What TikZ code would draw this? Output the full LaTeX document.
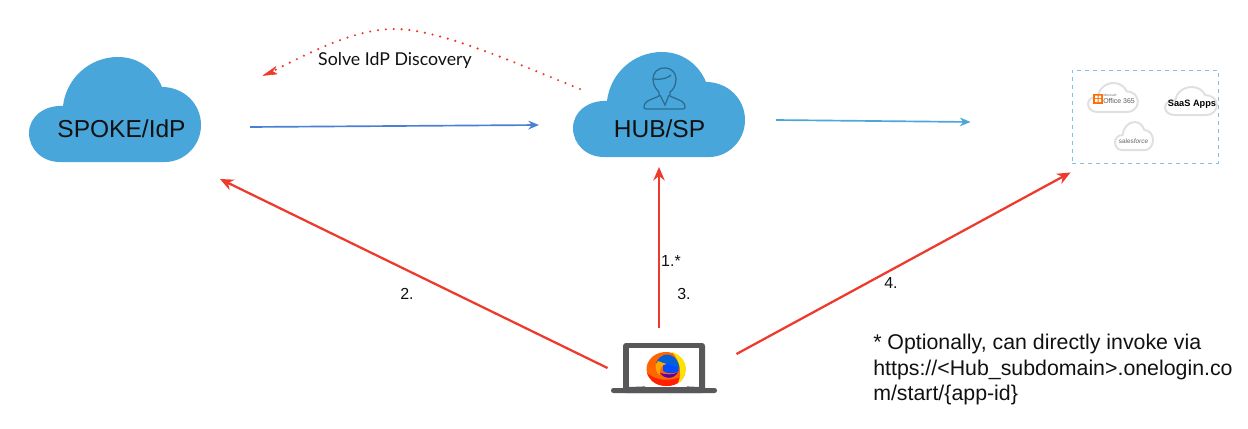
\documentclass[tikz,border=0pt]{standalone}
\usepackage{fontspec}
\setmainfont{Liberation Sans}
\newfontfamily\labelfont{Lato}
\usetikzlibrary{arrows.meta,calc}
\definecolor{cloudblue}{HTML}{48A6DA}
\definecolor{arrowred}{HTML}{EE3A2C}
\definecolor{flowblue}{HTML}{4A80D4}
\definecolor{lightflow}{HTML}{4BA6DB}
\definecolor{iconline}{HTML}{2B6C90}
\definecolor{laptopgray}{HTML}{58585A}
\definecolor{inktext}{HTML}{111111}
\newcommand{\cloudoutline}{(31,105) .. controls (13,105) and (0,92) .. (0,76) .. controls (0,60) and (15,48) .. (34,49) .. controls (37,22) and (60,0) .. (89,0) .. controls (110,0) and (126,13) .. (133,30) .. controls (155,30) and (172,47) .. (172,68) .. controls (172,89) and (155,105) .. (136,105) -- cycle}
\tikzset{
  redflow/.style={draw=arrowred,line width=1.7pt,-{Stealth[length=10pt,width=8.5pt]}},
  blueflow/.style={draw=flowblue,line width=1.25pt,-{Stealth[length=8pt,width=6.5pt]}},
  lightblueflow/.style={draw=lightflow,line width=1.25pt,-{Stealth[length=8pt,width=6.5pt]}},
  discovery/.style={draw=arrowred,line width=1.8pt,line cap=round,dash pattern=on 0pt off 5.9pt},
  bigcloud/.style={fill=cloudblue,draw=none},
  smallcloud/.style={fill=white,draw=black!12,line width=1.5pt},
  cloudtitle/.style={text=inktext,font=\fontsize{18.4}{22}\selectfont,inner sep=0pt},
  steplabel/.style={text=inktext,font=\fontsize{12}{14}\selectfont,inner sep=0pt},
  boxnode/.style={draw=none,inner sep=0pt,outer sep=0pt},
}
\begin{document}
\begin{tikzpicture}[x=0.75pt,y=-0.75pt]
\useasboundingbox (0,0) rectangle (1248,428);
% clouds
\begin{scope}[shift={(29,57)}]
  \path[bigcloud] \cloudoutline;
\end{scope}
\begin{scope}[shift={(573,52)}]
  \path[bigcloud] \cloudoutline;
\end{scope}
% person icon
\begin{scope}[draw=iconline,line width=0.95pt]
  \draw (664.5,68) .. controls (657,68) and (653,73) .. (653,79) .. controls (653,86) and (657,90) .. (659,92) -- (659,96) .. controls (654,99) and (644,100) .. (644,107) .. controls (644,108) and (644.5,109) .. (646,109) -- (683,109) .. controls (684.5,109) and (685,108) .. (685,107) .. controls (685,100) and (675,99) .. (670,96) -- (670,92) .. controls (673,90) and (676,86) .. (676,79) .. controls (676,73) and (672,68) .. (664.5,68) -- cycle;
  \draw (654,79) .. controls (662,80) and (668,78) .. (671,75);
  \draw (660,95) -- (665,105) -- (669,95);
\end{scope}
% cloud nodes
\node[boxnode,cloudtitle,minimum width=192.75pt,minimum height=75pt] (spoke) at (121.5,129) {SPOKE/IdP};
\node[boxnode,cloudtitle,minimum width=180.75pt,minimum height=57pt] (hub) at (659.5,129) {HUB/SP};
% apps box
\node[draw=lightflow!70,dashed,line width=0.7pt,inner sep=0pt,minimum width=109.5pt,minimum height=69.75pt] (apps) at (1145,116.5) {};
\begin{scope}[shift={(1088,83)},xscale=0.29,yscale=0.276]
  \path[smallcloud] \cloudoutline;
\end{scope}
\begin{scope}[shift={(1165,87)},xscale=0.302,yscale=0.267]
  \path[smallcloud] \cloudoutline;
\end{scope}
\begin{scope}[shift={(1115,122)},xscale=0.221,yscale=0.267]
  \path[smallcloud] \cloudoutline;
\end{scope}
\fill[orange!85!red] (1093,93.5) rectangle (1103,104);
\fill[white] (1095,95.5) rectangle (1097.5,98.2) (1098.5,95.5) rectangle (1101,98.2) (1095,99.2) rectangle (1097.5,102) (1098.5,99.2) rectangle (1101,102);
\node[inner sep=0pt,text=black!60,font=\fontsize{2.4}{3}\selectfont] (msword) at (1110,95.5) {Microsoft};
\node[inner sep=0pt,text=black!65,font=\fontsize{5.2}{7}\selectfont] (office) at (1119,101) {Office 365};
\node[inner sep=0pt,text=black,font=\bfseries\fontsize{6.9}{8}\selectfont] (saas) at (1192,104) {SaaS Apps};
\node[inner sep=0pt,text=black!60,font=\fontsize{4.8}{6}\selectfont] (sforce) at (1133.5,141) {sales\textit{force}};
% laptop
\node[boxnode,minimum width=79.5pt,minimum height=37.5pt] (laptop) at (664.5,368) {};
\path[fill=laptopgray,rounded corners=2.2pt] (623,393) -- (623,343) -- (705,343) -- (705,393) -- cycle;
\fill[white] (629,348) rectangle (699,388);
\path[fill=laptopgray,rounded corners=1.8pt] (611,393) -- (611,388) -- (717,388) -- (717,393) -- cycle;
\fill[laptopgray] (645,387) rectangle (687,388);
\fill[laptopgray] (629,387) -- (645,386.4) -- (645,388) -- (629,388) -- cycle;
\fill[laptopgray] (687,386.4) -- (699,387) -- (699,388) -- (687,388) -- cycle;
% browser logo
\begin{scope}
  \fill[orange!80!red] (666,369) ellipse (19.5 and 17);
  \fill[red!75!orange] (647,373) .. controls (650,382) and (658,386) .. (667,386) .. controls (676,386) and (683,381) .. (685,374) .. controls (678,380) and (660,384) .. (647,373) -- cycle;
  \fill[yellow!85!orange] (672,352) .. controls (682,355) and (687,364) .. (685.5,372) .. controls (684,378) and (681,382) .. (678,383) .. controls (682,374) and (681,362) .. (672,352) -- cycle;
  \fill[blue!55!cyan!85!black] (667,354.5) .. controls (676,355) and (680,364) .. (679,370) .. controls (676,366) and (665,362) .. (656,363) .. controls (658,358) and (662,355) .. (667,354.5) -- cycle;
  \fill[violet!75!blue] (660,373) .. controls (664,379) and (674,380) .. (678,372) .. controls (674,375) and (667,375) .. (660,373) -- cycle;
  \fill[blue!70!cyan] (663,365) .. controls (669,362) and (677,365) .. (679,371) .. controls (674,374) and (667,374) .. (663,371) -- cycle;
  \fill[orange!70!yellow] (658,361) .. controls (654,365) and (655,372) .. (660,375) .. controls (659,370) and (661,365) .. (666,364) -- cycle;
\end{scope}
% connectors
\draw[blueflow] ($(spoke.east)+(0,-2)$) -- ($(hub.west)+(0,-4)$);
\draw[lightblueflow] ($(hub.east)+(-4,-9)$) -- ($(apps.west)+(-101,5.5)$);
\draw[redflow] ($(laptop.west)+(-4,0)$) -- ($(spoke.south)+(98.5,0)$);
\draw[redflow] ($(laptop.north)+(-5.5,-15)$) -- ($(hub.south)+(-0.5,0)$);
\draw[redflow] ($(laptop.east)+(19,-14)$) -- ($(apps.south west)+(-1,9)$);
\coordinate (discoveryStart) at (580,89);
\draw[discovery] (discoveryStart) .. controls (520,65) and (440,29) .. (395,29) .. controls (355,29) and (315,50) .. (271,72);
\draw[draw=arrowred,fill=arrowred,line join=round] (263,75.5) -- (276,66.5) -- (272.5,71.5) -- (277,74) -- cycle;
% labels
\node[inner sep=0pt,text=inktext,font=\labelfont\fontsize{13.3}{16}\selectfont] (solve) at (395,60.5) {Solve IdP Discovery};
\node[steplabel] (l1) at (671,261) {1.*};
\node[steplabel] (l3) at (684,294) {3.};
\node[steplabel] (l2) at (407,294) {2.};
\node[steplabel] (l4) at (891,283) {4.};
\node[inner sep=0pt,anchor=north west,align=left,text=inktext,font=\fontsize{16}{19.1}\selectfont] (note) at (873,334) {* Optionally, can directly invoke via\\https://<Hub\_subdomain>.onelogin.co\\m/start/\{app-id\}};
\end{tikzpicture}
\end{document}
